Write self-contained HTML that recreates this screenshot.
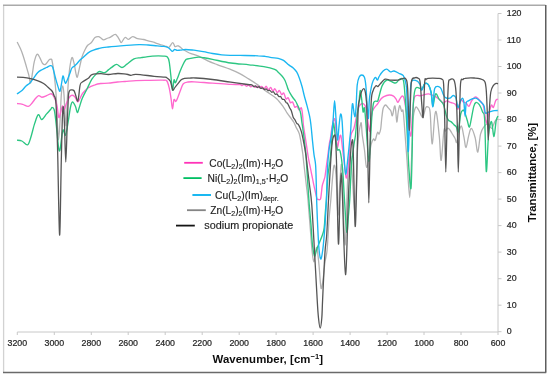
<!DOCTYPE html>
<html><head><meta charset="utf-8"><style>
html,body{margin:0;padding:0;background:#fff;}
body{width:550px;height:377px;overflow:hidden;position:relative;}
svg{position:absolute;left:0;top:0;}
.tl{font-family:"Liberation Sans",sans-serif;font-size:8.8px;fill:#262626;stroke:#262626;stroke-width:0.22px;}
.lg{font-family:"Liberation Sans",sans-serif;font-size:10.4px;fill:#1e1e1e;stroke:#1e1e1e;stroke-width:0.15px;}
.sb{font-size:7.2px;baseline-shift:-2.2px;}
.ax{font-family:"Liberation Sans",sans-serif;font-size:11.4px;font-weight:bold;fill:#0d0d0d;}
.sp{font-size:7.5px;}
</style></head><body>
<svg width="550" height="377" viewBox="0 0 550 377">
<rect x="0" y="0" width="550" height="377" fill="#fff"/>
<line x1="3.6" y1="5.2" x2="3.6" y2="372.2" stroke="#d2d2d2" stroke-width="1.3"/>
<line x1="3" y1="5.2" x2="545.5" y2="5.2" stroke="#aaaaaa" stroke-width="1.4"/>
<line x1="545.75" y1="5" x2="545.75" y2="372.5" stroke="#5e5e5e" stroke-width="1.5"/>
<line x1="3" y1="372.5" x2="546.2" y2="372.5" stroke="#6a6a6a" stroke-width="1.4"/>
<line x1="17.3" y1="332" x2="498" y2="332" stroke="#c8c8c8" stroke-width="1"/>
<line x1="498" y1="13.5" x2="498" y2="332" stroke="#c8c8c8" stroke-width="1"/>
<line x1="17.3" y1="332" x2="17.3" y2="335" stroke="#c8c8c8" stroke-width="1"/>
<text x="17.3" y="346.2" class="tl" text-anchor="middle">3200</text>
<line x1="54.3" y1="332" x2="54.3" y2="335" stroke="#c8c8c8" stroke-width="1"/>
<text x="54.3" y="346.2" class="tl" text-anchor="middle">3000</text>
<line x1="91.3" y1="332" x2="91.3" y2="335" stroke="#c8c8c8" stroke-width="1"/>
<text x="91.3" y="346.2" class="tl" text-anchor="middle">2800</text>
<line x1="128.2" y1="332" x2="128.2" y2="335" stroke="#c8c8c8" stroke-width="1"/>
<text x="128.2" y="346.2" class="tl" text-anchor="middle">2600</text>
<line x1="165.2" y1="332" x2="165.2" y2="335" stroke="#c8c8c8" stroke-width="1"/>
<text x="165.2" y="346.2" class="tl" text-anchor="middle">2400</text>
<line x1="202.2" y1="332" x2="202.2" y2="335" stroke="#c8c8c8" stroke-width="1"/>
<text x="202.2" y="346.2" class="tl" text-anchor="middle">2200</text>
<line x1="239.2" y1="332" x2="239.2" y2="335" stroke="#c8c8c8" stroke-width="1"/>
<text x="239.2" y="346.2" class="tl" text-anchor="middle">2000</text>
<line x1="276.1" y1="332" x2="276.1" y2="335" stroke="#c8c8c8" stroke-width="1"/>
<text x="276.1" y="346.2" class="tl" text-anchor="middle">1800</text>
<line x1="313.1" y1="332" x2="313.1" y2="335" stroke="#c8c8c8" stroke-width="1"/>
<text x="313.1" y="346.2" class="tl" text-anchor="middle">1600</text>
<line x1="350.1" y1="332" x2="350.1" y2="335" stroke="#c8c8c8" stroke-width="1"/>
<text x="350.1" y="346.2" class="tl" text-anchor="middle">1400</text>
<line x1="387.1" y1="332" x2="387.1" y2="335" stroke="#c8c8c8" stroke-width="1"/>
<text x="387.1" y="346.2" class="tl" text-anchor="middle">1200</text>
<line x1="424.0" y1="332" x2="424.0" y2="335" stroke="#c8c8c8" stroke-width="1"/>
<text x="424.0" y="346.2" class="tl" text-anchor="middle">1000</text>
<line x1="461.0" y1="332" x2="461.0" y2="335" stroke="#c8c8c8" stroke-width="1"/>
<text x="461.0" y="346.2" class="tl" text-anchor="middle">800</text>
<line x1="498.0" y1="332" x2="498.0" y2="335" stroke="#c8c8c8" stroke-width="1"/>
<text x="498.0" y="346.2" class="tl" text-anchor="middle">600</text>
<line x1="498" y1="331.7" x2="501.5" y2="331.7" stroke="#c8c8c8" stroke-width="1"/>
<text x="506.8" y="334.2" class="tl">0</text>
<line x1="498" y1="305.2" x2="501.5" y2="305.2" stroke="#c8c8c8" stroke-width="1"/>
<text x="506.8" y="307.7" class="tl">10</text>
<line x1="498" y1="278.7" x2="501.5" y2="278.7" stroke="#c8c8c8" stroke-width="1"/>
<text x="506.8" y="281.2" class="tl">20</text>
<line x1="498" y1="252.1" x2="501.5" y2="252.1" stroke="#c8c8c8" stroke-width="1"/>
<text x="506.8" y="254.6" class="tl">30</text>
<line x1="498" y1="225.6" x2="501.5" y2="225.6" stroke="#c8c8c8" stroke-width="1"/>
<text x="506.8" y="228.1" class="tl">40</text>
<line x1="498" y1="199.1" x2="501.5" y2="199.1" stroke="#c8c8c8" stroke-width="1"/>
<text x="506.8" y="201.6" class="tl">50</text>
<line x1="498" y1="172.6" x2="501.5" y2="172.6" stroke="#c8c8c8" stroke-width="1"/>
<text x="506.8" y="175.1" class="tl">60</text>
<line x1="498" y1="146.1" x2="501.5" y2="146.1" stroke="#c8c8c8" stroke-width="1"/>
<text x="506.8" y="148.6" class="tl">70</text>
<line x1="498" y1="119.6" x2="501.5" y2="119.6" stroke="#c8c8c8" stroke-width="1"/>
<text x="506.8" y="122.1" class="tl">80</text>
<line x1="498" y1="93.0" x2="501.5" y2="93.0" stroke="#c8c8c8" stroke-width="1"/>
<text x="506.8" y="95.5" class="tl">90</text>
<line x1="498" y1="66.5" x2="501.5" y2="66.5" stroke="#c8c8c8" stroke-width="1"/>
<text x="506.8" y="69.0" class="tl">100</text>
<line x1="498" y1="40.0" x2="501.5" y2="40.0" stroke="#c8c8c8" stroke-width="1"/>
<text x="506.8" y="42.5" class="tl">110</text>
<line x1="498" y1="13.5" x2="501.5" y2="13.5" stroke="#c8c8c8" stroke-width="1"/>
<text x="506.8" y="16.0" class="tl">120</text>
<path d="M17.2 42.1 C17.7 43.2 19.4 46.3 20.4 48.6 C21.4 50.9 22.3 53.2 23.2 56.0 C24.1 58.8 25.1 62.2 26.0 65.3 C26.9 68.4 27.9 71.8 28.7 74.7 C29.5 77.7 30.0 83.3 30.6 83.0 C31.2 82.7 31.9 76.4 32.5 72.8 C33.1 69.2 33.5 64.7 34.3 61.6 C35.1 58.5 36.2 54.8 37.1 54.2 C38.0 53.6 39.0 56.4 39.9 57.9 C40.8 59.4 41.8 62.4 42.7 63.5 C43.6 64.6 44.4 65.0 45.5 64.4 C46.6 63.8 48.3 60.6 49.2 59.8 C50.1 58.9 50.3 59.2 50.8 59.3 C51.3 59.4 51.5 58.2 52.0 60.5 C52.5 62.8 53.3 67.8 54.0 73.3 C54.7 78.8 55.4 84.6 56.0 93.2 C56.6 101.8 57.1 117.2 57.5 125.0 C57.9 132.8 58.1 140.0 58.5 140.0 C58.9 140.0 59.3 132.5 59.8 125.0 C60.3 117.5 60.8 101.5 61.3 95.0 C61.8 88.5 62.3 86.0 62.8 86.0 C63.2 86.0 63.6 89.7 64.0 95.0 C64.4 100.3 64.9 113.0 65.3 118.0 C65.7 123.0 66.0 128.0 66.3 125.0 C66.6 122.0 66.9 107.5 67.3 100.0 C67.7 92.5 68.0 85.7 68.5 80.0 C69.0 74.3 69.4 69.8 70.0 66.0 C70.6 62.2 71.3 58.0 72.0 57.5 C72.7 57.0 73.2 60.1 73.9 62.7 C74.6 65.3 75.4 70.9 75.9 73.3 C76.5 75.7 76.8 77.5 77.2 77.3 C77.7 77.1 78.1 74.0 78.6 72.0 C79.1 70.0 79.4 67.8 80.0 65.3 C80.6 62.8 81.2 59.6 82.0 57.0 C82.8 54.4 84.0 51.8 85.0 49.8 C86.0 47.8 86.6 46.5 87.7 45.3 C88.8 44.1 90.2 43.8 91.4 42.5 C92.6 41.2 93.8 38.5 95.0 37.5 C96.2 36.5 97.6 36.5 98.6 36.6 C99.6 36.7 100.1 37.5 100.9 38.0 C101.7 38.5 102.6 39.7 103.6 39.8 C104.6 39.9 105.6 39.0 106.8 38.5 C108.0 38.0 109.1 37.8 110.5 37.1 C111.9 36.4 113.9 34.5 115.0 34.4 C116.1 34.2 116.5 35.3 117.3 36.2 C118.0 37.1 118.8 38.8 119.5 39.8 C120.2 40.8 120.5 42.9 121.4 42.5 C122.3 42.1 123.8 38.0 125.0 37.5 C126.2 37.0 127.3 39.5 128.6 39.4 C129.9 39.2 131.2 36.7 132.7 36.6 C134.2 36.5 135.8 38.2 137.6 38.7 C139.4 39.2 141.8 39.1 143.6 39.5 C145.4 39.9 146.7 40.5 148.2 40.9 C149.7 41.3 151.2 41.3 152.7 41.8 C154.2 42.2 155.8 43.1 157.3 43.6 C158.8 44.1 160.3 44.5 161.8 45.0 C163.3 45.5 165.2 46.0 166.4 46.4 C167.6 46.8 168.1 47.8 169.1 47.2 C170.1 46.6 171.7 42.8 172.7 42.7 C173.7 42.6 174.3 45.9 174.9 46.5 C175.5 47.1 175.9 46.3 176.5 46.2 C177.1 46.1 177.6 45.6 178.3 45.8 C179.0 46.0 179.8 46.7 180.5 47.3 C181.2 47.9 181.3 48.3 182.8 49.3 C184.3 50.2 186.7 51.9 189.3 53.0 C191.9 54.1 195.5 54.9 198.6 56.2 C201.7 57.5 204.7 59.5 207.8 60.9 C210.9 62.3 213.4 63.2 217.1 64.6 C220.8 66.0 226.3 67.8 230.0 69.2 C233.7 70.7 236.2 71.7 239.3 73.3 C242.4 74.9 245.5 77.0 248.6 78.9 C251.7 80.8 254.7 82.7 257.8 84.9 C260.9 87.1 264.0 89.7 267.1 91.9 C270.2 94.2 273.7 95.9 276.4 98.4 C279.1 100.9 281.5 104.3 283.3 106.8 C285.1 109.3 285.9 111.2 287.2 113.2 C288.5 115.2 290.1 117.0 291.2 118.5 C292.3 120.0 293.2 121.1 294.0 122.5 C294.8 123.9 295.1 125.3 296.0 127.1 C296.9 128.9 298.3 130.7 299.2 133.5 C300.1 136.3 300.7 140.6 301.3 144.1 C301.9 147.6 302.4 151.2 302.9 154.7 C303.3 158.2 303.4 159.9 304.0 165.0 C304.6 170.1 305.6 179.2 306.3 185.0 C307.0 190.8 307.4 193.3 308.0 200.0 C308.6 206.7 309.3 216.7 310.0 225.0 C310.7 233.3 311.4 243.9 312.0 250.0 C312.6 256.1 313.2 261.4 313.8 261.7 C314.4 262.0 315.0 254.3 315.5 252.0 C316.0 249.7 316.4 245.8 317.0 248.0 C317.6 250.2 318.3 258.3 319.0 265.0 C319.7 271.7 320.3 285.5 321.0 288.0 C321.7 290.5 322.3 284.3 323.0 280.0 C323.7 275.7 324.3 267.0 325.0 262.0 C325.7 257.0 326.4 257.0 327.1 250.0 C327.8 243.0 328.4 228.3 329.0 220.0 C329.6 211.7 330.0 208.9 330.8 200.0 C331.6 191.1 332.8 171.0 333.7 166.8 C334.6 162.6 335.3 167.0 336.0 175.0 C336.7 183.0 337.3 214.2 338.0 215.0 C338.7 215.8 339.3 187.8 340.0 180.0 C340.7 172.2 341.2 157.2 342.0 168.0 C342.8 178.8 344.0 244.3 345.0 245.0 C346.0 245.7 347.0 186.5 348.0 172.0 C349.0 157.5 349.8 151.3 351.0 158.0 C352.2 164.7 353.9 213.3 355.0 212.0 C356.1 210.7 356.5 164.8 357.5 150.0 C358.5 135.2 360.0 125.6 360.8 123.1 C361.6 120.6 361.7 130.7 362.3 135.2 C362.9 139.7 363.8 144.6 364.5 150.0 C365.2 155.4 365.8 166.6 366.6 167.4 C367.4 168.2 368.8 158.8 369.5 155.0 C370.2 151.2 370.4 147.2 371.1 144.5 C371.8 141.8 372.8 139.6 373.5 138.9 C374.2 138.2 374.4 141.6 375.1 140.5 C375.8 139.4 376.8 133.6 377.5 132.5 C378.2 131.4 378.6 134.6 379.1 134.0 C379.6 133.4 380.2 131.7 380.7 129.0 C381.1 126.3 381.4 121.3 381.8 118.0 C382.2 114.7 382.6 111.0 383.0 109.0 C383.4 107.0 383.8 106.7 384.3 106.0 C384.8 105.3 385.4 104.8 386.0 105.1 C386.6 105.4 387.3 106.7 388.1 107.7 C388.9 108.7 390.1 109.6 390.8 110.9 C391.5 112.2 391.8 116.5 392.4 115.7 C393.0 114.9 394.0 107.1 394.5 106.1 C395.0 105.1 395.2 107.1 395.6 109.8 C396.0 112.5 396.4 121.6 396.8 122.0 C397.2 122.4 397.7 114.7 398.2 112.0 C398.7 109.3 399.2 106.1 399.6 105.6 C400.1 105.1 400.5 107.8 400.9 108.8 C401.2 109.8 401.3 111.1 401.7 111.4 C402.1 111.7 402.6 108.7 403.0 110.4 C403.4 112.1 403.8 117.4 404.1 121.5 C404.5 125.6 404.6 128.6 405.1 135.0 C405.6 141.4 406.2 149.6 407.0 160.0 C407.8 170.4 408.9 197.5 409.7 197.5 C410.4 197.5 410.9 172.9 411.5 160.0 C412.1 147.1 412.3 128.7 413.0 120.0 C413.7 111.3 414.7 109.4 415.5 107.6 C416.3 105.8 417.2 108.1 418.0 109.0 C418.8 109.9 419.3 111.7 420.1 113.1 C420.9 114.5 422.0 118.1 422.9 117.3 C423.8 116.5 424.8 109.7 425.6 108.0 C426.5 106.3 427.2 106.3 428.0 107.0 C428.8 107.7 429.4 105.8 430.1 112.0 C430.8 118.2 431.3 143.3 432.1 143.9 C432.9 144.5 434.1 120.5 434.8 115.5 C435.6 110.5 435.8 110.0 436.6 113.7 C437.4 117.4 438.6 129.7 439.4 137.5 C440.2 145.3 440.4 161.6 441.2 160.4 C441.9 159.2 443.2 135.4 443.9 130.5 C444.6 125.6 444.8 131.4 445.5 131.0 C446.2 130.6 447.1 128.2 447.9 128.1 C448.7 128.0 449.5 129.4 450.3 130.5 C451.1 131.6 451.9 133.2 452.7 134.5 C453.5 135.8 454.4 137.2 455.1 138.5 C455.8 139.8 456.1 143.2 456.7 142.5 C457.3 141.8 457.7 136.8 458.5 134.0 C459.3 131.2 460.5 125.5 461.4 126.0 C462.3 126.5 463.1 133.3 463.9 136.9 C464.7 140.5 465.2 147.7 466.0 147.5 C466.8 147.3 467.8 138.8 468.7 135.6 C469.6 132.4 470.3 128.0 471.4 128.3 C472.5 128.6 474.0 133.5 475.1 137.5 C476.2 141.5 476.9 152.7 477.8 152.1 C478.7 151.5 479.5 138.1 480.6 133.8 C481.7 129.5 483.0 128.2 484.2 126.5 C485.4 124.8 486.7 123.4 487.9 123.7 C489.1 124.0 490.4 128.8 491.6 128.3 C492.8 127.9 494.1 122.5 495.2 121.0 C496.3 119.5 497.5 119.3 498.0 119.0" stroke="#b2b2b2" stroke-width="1.3" fill="none" stroke-linejoin="round"/>
<path d="M17.0 103.5 C17.9 103.6 20.8 103.8 22.7 104.3 C24.6 104.8 26.7 106.7 28.3 106.4 C29.9 106.1 31.1 104.0 32.3 102.7 C33.5 101.4 34.4 99.7 35.5 98.5 C36.6 97.3 37.7 95.8 38.7 95.6 C39.8 95.4 40.5 97.2 41.8 97.2 C43.1 97.2 45.1 96.2 46.6 95.6 C48.1 95.0 49.6 93.9 50.6 93.8 C51.6 93.7 51.9 93.8 52.7 94.8 C53.5 95.8 54.5 97.8 55.3 99.8 C56.0 101.8 56.6 104.0 57.2 107.0 C57.8 110.0 58.2 116.5 58.8 117.5 C59.3 118.5 59.9 114.8 60.5 112.9 C61.1 111.0 61.9 106.6 62.5 106.0 C63.1 105.4 63.7 109.8 64.3 109.5 C64.9 109.2 65.4 106.0 66.0 104.5 C66.6 103.0 67.0 101.8 67.7 100.5 C68.4 99.2 69.3 97.4 70.0 96.5 C70.7 95.6 71.2 95.2 72.0 95.2 C72.8 95.2 73.8 95.7 74.6 96.5 C75.4 97.3 76.0 98.9 76.6 99.8 C77.1 100.7 77.3 102.0 77.9 101.8 C78.5 101.6 79.2 99.9 80.0 98.5 C80.8 97.1 81.2 95.2 82.5 93.5 C83.8 91.8 85.9 89.5 88.0 88.0 C90.1 86.5 92.8 85.5 95.0 84.8 C97.2 84.0 98.8 83.8 101.0 83.5 C103.2 83.2 105.5 83.5 108.3 83.2 C111.0 83.0 114.7 82.3 117.5 82.0 C120.3 81.7 121.9 81.7 125.0 81.5 C128.1 81.3 131.8 80.8 136.0 80.6 C140.2 80.4 145.4 80.4 150.0 80.3 C154.6 80.2 160.5 80.1 163.3 80.2 C166.1 80.3 165.9 79.6 166.9 81.0 C167.9 82.4 168.6 85.3 169.3 88.4 C170.0 91.5 170.7 96.2 171.2 99.6 C171.7 103.0 172.0 108.9 172.5 108.9 C173.0 108.9 173.4 100.8 174.0 99.6 C174.6 98.4 175.2 101.8 175.8 101.5 C176.4 101.2 176.9 99.6 177.7 97.7 C178.5 95.8 179.6 92.6 180.5 90.3 C181.4 88.0 182.1 85.2 183.3 83.8 C184.5 82.4 186.1 82.3 187.9 82.0 C189.7 81.7 190.1 81.6 194.2 81.8 C198.3 82.0 206.4 82.7 212.5 83.1 C218.6 83.5 226.2 84.2 230.8 84.4 C235.4 84.7 238.1 84.4 240.0 84.6 C241.9 84.8 241.3 85.6 242.0 85.6 C242.7 85.5 243.5 84.4 244.2 84.5 C244.9 84.6 245.7 86.1 246.4 86.2 C247.1 86.3 247.9 85.0 248.6 85.1 C249.3 85.2 250.1 86.7 250.8 86.8 C251.5 86.9 252.3 85.6 253.0 85.7 C253.7 85.8 254.5 87.2 255.2 87.3 C255.9 87.4 256.7 86.0 257.4 86.1 C258.1 86.2 258.9 87.6 259.6 87.7 C260.3 87.8 261.1 86.3 261.8 86.5 C262.5 86.7 263.3 88.9 264.0 88.9 C264.7 88.9 265.5 86.1 266.2 86.3 C266.9 86.5 267.7 89.7 268.4 89.8 C269.1 90.0 269.9 87.2 270.6 87.4 C271.3 87.6 272.1 90.7 272.8 90.9 C273.5 91.2 274.3 88.5 275.0 88.8 C275.7 89.0 276.5 92.3 277.2 92.6 C277.9 92.9 278.7 90.1 279.4 90.5 C280.1 90.8 280.9 94.2 281.6 94.6 C282.3 95.1 283.1 92.4 283.8 93.1 C284.5 93.9 285.3 98.2 286.0 99.0 C286.7 99.8 287.5 97.1 288.2 97.7 C288.9 98.3 289.7 101.9 290.4 102.7 C291.1 103.4 291.9 101.3 292.6 102.0 C293.3 102.8 294.1 106.5 294.8 107.2 C295.5 107.9 296.3 105.7 297.0 106.2 C297.7 106.7 298.5 109.8 299.2 110.1 C299.9 110.3 300.8 106.9 301.4 107.9 C302.0 109.0 302.4 113.4 302.7 116.2 C303.0 119.0 303.0 121.8 303.4 125.0 C303.8 128.2 304.5 132.1 305.0 135.6 C305.5 139.1 306.1 142.7 306.6 146.2 C307.1 149.7 307.7 153.7 308.2 156.8 C308.7 159.9 309.2 162.0 309.8 165.0 C310.4 168.0 311.0 171.2 311.8 175.0 C312.6 178.8 313.6 184.1 314.5 188.0 C315.4 191.9 316.2 196.3 316.9 198.2 C317.6 200.1 317.9 199.4 318.5 199.5 C319.1 199.6 320.0 200.2 320.5 199.0 C321.0 197.8 321.2 194.2 321.5 192.0 C321.8 189.8 321.9 187.5 322.3 185.5 C322.7 183.5 323.6 181.5 324.0 180.0 C324.4 178.5 324.6 178.8 325.0 176.5 C325.4 174.2 325.9 169.4 326.4 166.0 C326.9 162.6 327.3 159.5 327.8 155.8 C328.3 152.1 328.9 146.9 329.3 144.0 C329.7 141.1 329.9 141.3 330.4 138.5 C330.8 135.7 331.4 130.4 332.0 127.2 C332.6 124.0 333.6 120.0 334.2 119.1 C334.8 118.2 334.9 118.5 335.3 122.0 C335.7 125.5 336.1 135.7 336.5 140.0 C336.9 144.3 337.1 147.9 337.5 147.9 C337.9 147.9 338.4 142.1 339.0 140.0 C339.6 137.9 340.2 133.8 340.8 135.5 C341.4 137.2 342.1 145.1 342.7 150.0 C343.3 154.9 343.9 160.3 344.5 165.0 C345.1 169.7 345.6 177.5 346.2 178.0 C346.8 178.5 347.6 172.7 348.2 168.0 C348.8 163.3 349.2 155.5 349.7 150.0 C350.2 144.5 350.3 138.6 351.0 135.0 C351.7 131.4 352.9 131.5 353.8 128.7 C354.7 125.9 355.4 121.5 356.2 118.0 C357.0 114.5 357.8 110.2 358.5 108.0 C359.2 105.8 359.7 105.2 360.5 104.5 C361.3 103.8 362.6 103.2 363.5 103.8 C364.4 104.4 365.2 105.0 366.0 108.0 C366.8 111.0 367.4 118.1 368.0 122.0 C368.6 125.9 369.3 131.9 369.8 131.2 C370.3 130.5 370.8 121.2 371.2 118.0 C371.6 114.8 371.7 113.7 372.2 112.0 C372.7 110.3 373.5 109.0 374.4 107.7 C375.3 106.4 376.4 105.4 377.5 104.0 C378.6 102.6 379.6 100.4 380.7 99.2 C381.8 98.0 382.5 97.3 383.9 96.6 C385.3 95.9 387.6 95.1 389.2 95.0 C390.8 94.9 392.4 95.4 393.5 96.1 C394.6 96.8 395.4 98.2 396.1 99.2 C396.8 100.2 397.1 102.4 397.7 102.4 C398.3 102.4 399.1 100.2 399.8 99.2 C400.5 98.2 401.3 96.4 401.9 96.1 C402.5 95.8 403.1 96.2 403.5 97.1 C403.9 98.0 404.2 99.1 404.6 101.4 C405.1 103.7 405.8 108.6 406.2 110.9 C406.6 113.2 406.5 112.2 407.0 115.0 C407.5 117.8 408.3 124.6 409.0 128.0 C409.7 131.4 410.4 137.8 411.0 135.6 C411.6 133.4 411.9 121.4 412.5 115.0 C413.1 108.6 413.2 100.2 414.6 97.0 C416.0 93.8 418.7 96.2 421.0 95.7 C423.3 95.2 426.2 93.9 428.3 93.9 C430.4 93.9 432.0 94.8 433.8 95.7 C435.6 96.6 437.7 98.2 439.3 99.4 C440.9 100.6 442.1 102.8 443.3 103.1 C444.5 103.3 445.2 101.0 446.5 100.9 C447.8 100.8 449.4 102.0 450.9 102.5 C452.4 103.0 454.1 103.1 455.3 104.2 C456.5 105.3 457.1 109.8 458.0 109.1 C458.9 108.4 459.8 101.0 460.7 99.8 C461.6 98.6 462.5 101.5 463.4 102.0 C464.3 102.5 465.3 102.4 466.2 103.1 C467.1 103.8 468.0 106.8 468.9 106.4 C469.8 106.0 470.6 102.5 471.6 100.9 C472.6 99.4 473.8 97.5 474.9 97.1 C476.0 96.7 477.1 97.8 478.2 98.7 C479.3 99.6 480.5 101.2 481.4 102.5 C482.3 103.8 482.9 103.4 483.6 106.4 C484.3 109.4 485.2 117.8 485.8 120.5 C486.4 123.2 486.4 123.6 486.9 122.7 C487.3 121.8 487.8 118.0 488.5 115.1 C489.2 112.2 490.5 106.6 491.3 105.3 C492.1 104.0 492.7 108.1 493.4 107.4 C494.1 106.7 494.9 102.3 495.6 100.9 C496.3 99.5 497.4 99.3 497.8 99.0" stroke="#ff68ce" stroke-width="1.35" fill="none" stroke-linejoin="round"/>
<path d="M17.0 140.2 C17.8 140.3 20.1 140.2 21.9 141.0 C23.6 141.8 26.0 145.4 27.5 144.9 C29.0 144.4 29.5 141.4 30.7 137.8 C31.9 134.2 33.4 127.2 34.7 123.4 C36.0 119.6 37.1 115.4 38.3 114.7 C39.5 114.0 40.4 119.6 41.8 119.5 C43.2 119.4 45.1 115.6 46.6 113.9 C48.1 112.2 49.7 110.6 50.6 109.5 C51.5 108.4 51.6 107.2 52.2 107.5 C52.9 107.8 53.7 107.1 54.5 111.0 C55.3 114.9 56.2 124.7 56.9 130.9 C57.6 137.1 58.1 144.9 58.6 148.1 C59.1 151.2 59.4 152.1 60.0 149.8 C60.6 147.5 61.5 137.6 62.1 134.3 C62.7 131.0 62.8 129.8 63.4 130.0 C64.0 130.2 64.7 136.5 65.5 135.2 C66.3 133.9 67.3 126.9 68.1 122.2 C68.9 117.5 69.8 110.4 70.5 107.0 C71.2 103.6 71.7 102.1 72.5 102.0 C73.3 101.9 74.7 104.8 75.5 106.5 C76.3 108.2 76.7 112.3 77.3 112.5 C77.9 112.7 78.5 109.9 79.3 107.5 C80.1 105.1 81.0 101.3 82.3 98.2 C83.6 95.1 85.5 91.9 87.1 88.7 C88.7 85.5 90.3 81.6 91.9 79.1 C93.5 76.6 95.4 74.8 96.7 73.5 C98.0 72.2 98.2 71.7 99.5 71.5 C100.8 71.3 103.2 72.9 104.7 72.6 C106.2 72.3 107.1 70.8 108.3 69.9 C109.5 69.0 110.6 68.0 112.0 67.1 C113.4 66.2 114.9 64.3 116.6 64.4 C118.3 64.5 120.3 67.5 122.0 67.5 C123.7 67.5 124.6 65.8 126.6 64.4 C128.6 63.0 131.6 60.0 134.0 58.9 C136.4 57.8 138.2 58.1 141.3 57.6 C144.4 57.1 148.6 56.4 152.3 56.1 C156.0 55.9 160.8 55.9 163.3 56.1 C165.8 56.3 166.4 56.1 167.4 57.1 C168.4 58.1 168.7 58.6 169.3 62.3 C169.9 66.0 170.7 74.4 171.2 79.1 C171.7 83.8 172.0 90.1 172.5 90.3 C173.0 90.5 173.5 81.2 174.0 80.0 C174.5 78.8 174.8 83.0 175.3 82.8 C175.8 82.6 176.3 81.0 177.1 79.1 C177.9 77.2 179.1 73.8 180.0 71.5 C180.9 69.2 181.9 66.9 182.8 65.0 C183.7 63.1 184.8 61.0 185.6 60.0 C186.4 59.0 186.3 59.3 187.4 59.0 C188.5 58.7 190.2 58.4 192.1 58.1 C194.0 57.8 196.8 57.3 198.6 57.2 C200.4 57.1 200.9 57.2 203.2 57.6 C205.5 58.0 207.9 58.4 212.5 59.3 C217.1 60.2 224.7 62.1 230.8 63.0 C236.9 63.9 243.6 64.2 249.1 64.8 C254.6 65.4 259.5 65.8 263.8 66.6 C268.1 67.4 272.3 68.5 274.7 69.4 C277.1 70.3 276.9 71.1 278.2 72.2 C279.4 73.3 281.1 74.9 282.2 76.2 C283.3 77.5 284.1 78.7 284.9 80.2 C285.7 81.8 286.3 84.0 286.9 85.5 C287.4 87.0 287.6 88.1 288.2 89.4 C288.8 90.7 289.4 92.1 290.2 93.4 C291.0 94.8 291.9 96.2 292.8 97.5 C293.7 98.8 294.7 99.8 295.5 101.0 C296.3 102.2 296.9 103.8 297.5 105.0 C298.1 106.2 298.5 107.0 299.0 108.3 C299.5 109.6 300.2 110.9 300.6 113.0 C301.1 115.1 301.4 118.7 301.7 121.0 C302.0 123.3 302.2 124.2 302.6 127.0 C303.0 129.8 303.6 134.5 304.0 137.7 C304.4 140.9 304.6 143.2 305.0 146.2 C305.4 149.2 305.8 152.7 306.1 155.8 C306.4 158.9 306.1 157.6 306.6 165.0 C307.1 172.4 308.2 190.0 308.9 200.0 C309.6 210.0 310.4 217.5 311.0 225.0 C311.6 232.5 311.9 239.8 312.5 245.0 C313.1 250.2 313.8 255.2 314.5 256.0 C315.2 256.8 315.8 252.1 316.5 250.0 C317.2 247.9 318.0 246.1 319.0 243.6 C320.0 241.1 321.5 237.7 322.4 235.0 C323.3 232.3 323.7 231.9 324.2 227.7 C324.7 223.5 325.1 214.6 325.5 210.0 C325.9 205.4 326.0 205.8 326.4 200.0 C326.8 194.2 327.4 181.7 328.0 175.0 C328.6 168.3 329.3 167.5 330.1 160.0 C330.9 152.5 332.0 136.3 332.6 130.2 C333.2 124.0 333.2 122.4 333.6 123.1 C334.0 123.8 334.6 130.5 335.1 134.2 C335.6 137.8 336.1 142.4 336.5 145.0 C336.9 147.6 337.0 149.0 337.6 150.0 C338.2 151.0 339.2 147.7 340.1 151.1 C341.0 154.5 342.0 162.0 342.7 170.2 C343.4 178.3 343.8 189.7 344.5 200.0 C345.2 210.3 346.1 229.6 346.8 232.1 C347.5 234.6 348.0 220.3 348.5 215.0 C349.0 209.7 349.2 208.3 349.7 200.0 C350.2 191.7 350.8 174.5 351.5 165.0 C352.2 155.5 353.5 148.0 354.2 143.0 C354.9 138.0 355.0 139.7 355.5 135.0 C356.0 130.3 356.7 120.1 357.2 115.1 C357.7 110.1 358.2 109.1 358.7 105.0 C359.2 100.9 359.7 91.4 360.2 90.6 C360.7 89.8 361.3 96.6 361.8 100.2 C362.3 103.8 362.7 110.7 363.1 112.0 C363.6 113.3 364.0 105.8 364.5 108.0 C365.0 110.2 365.3 116.2 366.0 125.0 C366.7 133.8 368.1 158.6 368.8 161.1 C369.6 163.6 370.0 147.7 370.5 140.0 C371.0 132.3 371.4 121.3 372.0 115.0 C372.6 108.7 372.9 104.5 373.8 102.2 C374.7 99.9 376.6 101.8 377.4 101.2 C378.2 100.6 377.7 101.1 378.5 98.5 C379.3 95.9 380.8 88.7 382.2 85.6 C383.6 82.5 385.1 80.7 386.8 80.1 C388.5 79.5 390.8 81.5 392.3 82.0 C393.8 82.5 394.7 83.4 395.9 82.9 C397.1 82.4 398.4 79.7 399.6 79.2 C400.8 78.7 402.4 77.2 403.3 80.1 C404.2 83.0 404.5 88.3 405.1 96.6 C405.7 104.9 406.4 117.8 407.0 130.0 C407.6 142.2 408.3 160.3 409.0 170.0 C409.7 179.7 410.5 191.6 411.0 188.3 C411.5 185.0 411.9 163.1 412.2 150.0 C412.5 136.9 412.6 119.7 413.0 110.0 C413.4 100.3 413.9 95.8 414.5 92.0 C415.1 88.2 415.5 88.1 416.4 87.5 C417.3 86.9 419.2 88.1 420.1 88.4 C421.0 88.7 421.1 90.1 421.9 89.3 C422.7 88.5 423.6 84.6 424.7 83.8 C425.8 83.0 427.2 83.3 428.3 84.7 C429.4 86.1 430.3 88.5 431.1 92.0 C431.9 95.5 432.1 105.5 432.9 105.8 C433.6 106.1 434.5 95.0 435.6 93.9 C436.7 92.8 438.0 97.7 439.3 99.4 C440.6 101.1 442.1 101.4 443.3 104.2 C444.5 107.0 445.6 113.5 446.5 116.2 C447.4 118.9 448.0 119.6 448.7 120.5 C449.4 121.4 450.0 120.9 450.9 121.6 C451.8 122.3 453.3 124.0 454.2 124.9 C455.1 125.8 455.7 125.9 456.4 127.1 C457.1 128.3 457.5 134.2 458.2 132.0 C458.9 129.8 459.9 117.6 460.7 114.0 C461.5 110.4 462.3 110.6 462.9 110.2 C463.5 109.8 463.8 110.1 464.5 111.8 C465.2 113.5 466.5 118.0 467.3 120.5 C468.1 123.0 468.7 127.6 469.4 127.1 C470.1 126.6 470.9 120.8 471.6 117.3 C472.3 113.8 473.1 108.9 473.8 106.4 C474.5 103.9 475.1 102.8 476.0 102.5 C476.9 102.2 478.2 103.2 479.3 104.7 C480.4 106.2 481.6 109.2 482.5 111.8 C483.4 114.3 484.1 110.0 484.7 120.0 C485.3 129.9 485.7 169.0 486.3 171.5 C486.9 174.0 487.8 142.9 488.5 135.0 C489.2 127.1 489.8 126.1 490.3 124.0 C490.9 121.9 491.2 120.4 491.8 122.5 C492.4 124.6 493.3 136.8 494.0 136.5 C494.7 136.2 495.5 123.9 496.2 120.5 C496.9 117.1 497.7 116.8 498.0 116.0" stroke="#2cc682" stroke-width="1.35" fill="none" stroke-linejoin="round"/>
<path d="M17.0 94.0 C17.8 93.4 20.5 91.8 22.0 90.5 C23.5 89.2 24.7 87.2 26.0 86.0 C27.3 84.8 28.4 84.4 29.6 83.2 C30.8 82.0 31.6 80.8 33.0 79.0 C34.4 77.2 36.2 74.1 37.8 72.5 C39.4 70.9 41.0 70.3 42.5 69.5 C44.0 68.7 45.1 68.2 46.5 67.5 C47.9 66.8 49.6 65.6 50.6 65.6 C51.6 65.6 51.9 65.3 52.7 67.3 C53.5 69.2 54.4 74.1 55.3 77.3 C56.2 80.5 57.2 84.3 58.0 86.6 C58.8 88.9 59.4 91.9 60.0 91.2 C60.6 90.5 61.2 85.1 61.7 82.6 C62.2 80.0 62.5 76.1 63.0 75.9 C63.5 75.7 64.1 80.0 64.6 81.2 C65.0 82.4 65.2 83.6 65.7 83.2 C66.2 82.8 67.2 80.2 67.9 78.6 C68.6 76.9 69.2 75.1 69.9 73.3 C70.6 71.5 71.1 69.2 71.9 68.0 C72.7 66.8 73.8 66.7 74.6 66.0 C75.4 65.3 75.7 65.0 76.6 64.0 C77.5 63.0 78.9 61.1 80.0 60.0 C81.1 58.9 81.4 58.8 83.1 57.4 C84.8 56.0 87.3 53.1 90.0 51.6 C92.7 50.1 96.2 49.2 99.2 48.4 C102.2 47.6 103.7 47.5 108.3 47.0 C112.9 46.5 121.5 45.8 126.6 45.4 C131.7 45.0 135.5 44.7 139.1 44.6 C142.7 44.5 145.2 44.8 148.2 45.0 C151.2 45.2 154.8 45.7 157.3 45.9 C159.8 46.1 161.8 46.2 163.3 46.4 C164.8 46.5 165.4 46.5 166.4 46.8 C167.4 47.1 168.1 47.4 169.1 48.2 C170.1 49.0 171.4 51.2 172.3 51.4 C173.2 51.6 173.7 49.7 174.5 49.5 C175.3 49.3 176.3 50.3 177.3 50.4 C178.3 50.5 179.1 50.2 180.5 50.1 C181.9 50.0 183.4 49.5 185.6 49.5 C187.8 49.5 191.0 49.9 193.9 50.2 C196.8 50.6 200.1 51.1 203.2 51.6 C206.3 52.1 209.4 53.0 212.5 53.5 C215.6 54.0 218.8 54.5 221.7 54.8 C224.6 55.1 226.9 55.2 230.0 55.3 C233.1 55.4 235.3 55.3 240.0 55.4 C244.7 55.5 254.1 55.6 258.3 55.8 C262.5 55.9 262.8 56.0 265.0 56.3 C267.2 56.6 269.4 57.3 271.6 57.6 C273.8 57.9 276.2 57.8 278.2 58.3 C280.2 58.8 281.7 59.2 283.5 60.3 C285.3 61.4 287.1 63.6 288.8 64.9 C290.5 66.2 292.2 67.0 293.5 68.2 C294.8 69.4 295.8 70.5 296.8 72.2 C297.8 73.9 298.5 75.8 299.4 78.2 C300.3 80.6 301.3 83.9 302.1 86.8 C302.9 89.7 303.4 92.4 304.2 95.5 C305.0 98.6 306.1 102.1 307.0 105.6 C307.9 109.0 308.9 112.9 309.6 116.2 C310.3 119.5 310.5 121.4 311.0 125.5 C311.5 129.6 312.0 136.0 312.5 140.9 C313.0 145.8 313.5 150.7 314.0 154.7 C314.5 158.7 315.2 159.9 315.6 165.0 C316.0 170.1 316.1 178.3 316.3 185.0 C316.5 191.7 316.5 196.7 316.8 205.0 C317.1 213.3 317.7 227.5 318.1 235.0 C318.5 242.5 318.7 246.0 319.1 250.0 C319.5 254.0 320.1 258.2 320.6 259.0 C321.1 259.8 321.6 257.3 322.0 255.0 C322.4 252.7 322.8 250.3 323.3 245.3 C323.8 240.3 324.5 232.6 325.0 225.0 C325.5 217.4 326.0 209.2 326.4 200.0 C326.8 190.8 327.0 178.3 327.4 170.0 C327.8 161.7 328.3 155.8 329.0 150.0 C329.7 144.2 330.8 140.0 331.5 135.0 C332.2 130.0 332.6 125.8 333.1 120.1 C333.6 114.4 334.1 100.7 334.6 100.7 C335.1 100.7 335.6 113.5 336.1 120.1 C336.6 126.6 337.1 139.2 337.6 140.0 C338.1 140.8 338.6 129.4 339.1 125.1 C339.6 120.8 340.1 114.8 340.6 114.1 C341.1 113.4 341.6 115.1 342.1 121.1 C342.6 127.1 343.1 141.2 343.7 150.0 C344.3 158.8 344.9 173.3 345.7 174.2 C346.4 175.0 347.5 160.8 348.2 155.1 C348.9 149.4 349.3 144.2 349.7 140.0 C350.1 135.8 350.2 136.2 350.7 130.2 C351.1 124.2 351.8 106.7 352.4 104.0 C353.0 101.3 353.7 112.1 354.2 114.1 C354.7 116.1 354.9 117.6 355.2 116.1 C355.5 114.6 355.9 110.2 356.2 105.0 C356.5 99.8 356.7 89.8 357.2 85.1 C357.7 80.4 358.4 78.7 359.2 77.0 C360.0 75.3 360.9 75.0 361.8 75.0 C362.7 75.0 363.6 75.3 364.3 77.0 C365.0 78.7 365.4 81.2 365.8 85.1 C366.2 89.0 366.5 95.7 366.8 100.2 C367.1 104.7 367.4 109.0 367.7 112.0 C368.0 115.0 368.2 120.0 368.5 118.0 C368.8 116.0 368.9 104.9 369.3 100.2 C369.7 95.5 370.3 92.8 370.8 90.0 C371.3 87.2 371.7 85.0 372.3 83.1 C372.9 81.2 373.7 79.5 374.3 78.6 C374.9 77.7 375.4 77.3 375.9 77.6 C376.4 77.8 376.8 80.4 377.4 80.1 C378.0 79.8 378.4 77.5 379.4 76.0 C380.3 74.5 381.9 72.1 383.1 71.0 C384.3 69.9 385.6 69.0 386.8 69.2 C388.0 69.4 389.2 71.6 390.4 71.9 C391.6 72.2 392.6 70.7 394.1 71.0 C395.6 71.3 398.1 72.9 399.6 73.7 C401.1 74.5 402.3 74.2 403.3 75.6 C404.3 77.0 404.9 78.8 405.5 82.0 C406.1 85.2 406.4 83.5 406.9 95.0 C407.3 106.5 407.8 147.0 408.2 151.2 C408.6 155.4 409.1 130.2 409.5 120.0 C409.9 109.8 410.1 96.5 410.5 90.0 C410.9 83.5 410.7 82.6 411.8 81.1 C412.9 79.6 415.9 80.5 417.3 81.1 C418.7 81.7 419.3 83.2 420.1 84.7 C420.9 86.2 421.1 90.4 421.9 90.2 C422.7 90.0 423.6 84.7 424.7 83.8 C425.8 82.9 427.2 83.2 428.3 84.7 C429.4 86.2 430.3 89.3 431.1 93.0 C431.9 96.7 432.3 107.5 432.9 106.7 C433.5 105.9 433.5 91.6 434.7 88.4 C435.9 85.2 438.8 86.5 440.2 87.5 C441.6 88.5 442.4 92.7 443.3 94.4 C444.2 96.1 444.4 97.0 445.5 97.6 C446.6 98.2 448.5 98.5 449.8 98.2 C451.1 97.9 452.1 95.6 453.1 95.5 C454.1 95.4 455.0 95.6 455.8 97.6 C456.6 99.6 457.3 106.7 458.0 107.4 C458.7 108.1 459.5 103.5 460.2 102.0 C460.9 100.5 461.8 98.0 462.4 98.2 C463.0 98.4 463.6 100.1 464.0 103.1 C464.4 106.1 464.7 116.2 465.1 116.2 C465.5 116.2 465.6 105.6 466.2 103.1 C466.8 100.5 467.3 101.6 468.4 100.9 C469.5 100.2 471.4 99.2 472.7 98.7 C474.0 98.2 474.9 97.9 476.0 98.2 C477.1 98.5 478.2 99.5 479.3 100.4 C480.4 101.3 481.7 102.6 482.5 103.6 C483.3 104.6 483.7 104.9 484.2 106.4 C484.7 108.0 484.7 111.9 485.3 112.9 C485.9 113.9 487.0 112.7 488.0 112.4 C489.0 112.1 490.2 111.6 491.3 111.3 C492.4 111.0 493.4 110.8 494.5 110.7 C495.6 110.6 497.2 110.5 497.8 110.5" stroke="#1ab6f1" stroke-width="1.35" fill="none" stroke-linejoin="round"/>
<path d="M17.0 77.2 C18.0 77.2 20.9 77.2 23.2 77.4 C25.5 77.6 28.1 78.0 30.6 78.6 C33.1 79.2 35.8 80.0 38.0 80.8 C40.2 81.6 41.9 82.4 43.6 83.5 C45.3 84.6 46.9 86.2 48.3 87.5 C49.7 88.8 51.0 89.7 52.0 91.0 C53.0 92.3 53.3 93.3 54.0 95.5 C54.7 97.7 55.4 94.9 56.0 104.0 C56.6 113.1 57.0 128.2 57.6 150.0 C58.2 171.8 59.0 233.3 59.6 235.0 C60.2 236.7 60.8 180.0 61.3 160.0 C61.8 140.0 62.1 123.8 62.5 115.0 C62.9 106.2 63.1 105.8 63.4 107.5 C63.7 109.2 64.1 115.9 64.5 125.0 C64.9 134.1 65.3 162.0 65.8 162.0 C66.2 162.0 66.8 135.7 67.2 125.0 C67.6 114.3 68.0 103.6 68.3 98.0 C68.6 92.4 68.8 92.5 69.3 91.2 C69.8 89.9 70.4 90.0 71.2 89.9 C72.0 89.8 73.1 89.5 73.9 90.5 C74.7 91.5 75.3 94.1 75.9 95.9 C76.5 97.7 77.0 100.9 77.5 101.1 C78.0 101.3 78.1 100.0 78.6 97.2 C79.1 94.4 79.5 87.0 80.3 84.4 C81.0 81.8 81.7 82.7 83.1 81.6 C84.5 80.5 87.2 79.1 88.7 77.9 C90.2 76.7 90.0 75.3 92.0 74.6 C94.0 73.9 98.3 73.7 101.0 73.7 C103.7 73.7 105.5 74.5 108.3 74.5 C111.0 74.5 114.9 73.6 117.5 73.5 C120.1 73.4 122.2 73.6 124.0 73.8 C125.8 74.0 126.8 74.2 128.0 74.5 C129.2 74.8 129.7 75.4 131.0 75.4 C132.3 75.4 132.2 74.2 136.0 74.3 C139.8 74.4 149.2 75.8 154.1 76.3 C158.9 76.8 162.9 76.9 165.1 77.2 C167.3 77.5 166.6 77.6 167.4 78.2 C168.2 78.8 169.4 79.5 170.2 81.0 C171.0 82.5 171.6 86.0 172.1 87.5 C172.6 89.0 172.5 90.3 173.0 90.3 C173.5 90.3 174.0 88.8 174.9 87.5 C175.8 86.2 177.4 84.2 178.6 82.8 C179.8 81.4 180.4 79.9 182.3 79.1 C184.2 78.3 187.7 78.3 190.0 78.1 C192.3 77.9 192.2 77.8 196.0 78.0 C199.8 78.2 206.7 78.8 212.5 79.5 C218.3 80.2 224.9 81.4 230.8 82.2 C236.7 83.0 244.2 84.0 247.7 84.5 C251.2 85.0 250.8 84.6 251.8 84.9 C252.8 85.3 253.0 86.4 253.6 86.6 C254.2 86.7 254.8 85.7 255.4 85.8 C256.0 86.0 256.6 87.3 257.2 87.5 C257.8 87.6 258.4 86.6 259.0 86.7 C259.6 86.9 260.2 88.3 260.8 88.4 C261.4 88.6 262.0 87.6 262.6 87.8 C263.2 87.9 263.8 89.3 264.4 89.5 C265.0 89.7 265.6 88.6 266.2 88.8 C266.8 89.0 267.4 90.5 268.0 90.7 C268.6 90.9 269.2 90.0 269.8 90.3 C270.4 90.5 271.0 92.0 271.6 92.2 C272.2 92.5 272.8 91.5 273.4 91.8 C274.0 92.2 274.6 93.8 275.2 94.2 C275.8 94.6 276.4 93.7 277.0 94.1 C277.6 94.5 278.2 96.0 278.8 96.5 C279.4 96.9 280.0 96.1 280.6 96.6 C281.2 97.1 281.8 98.8 282.4 99.3 C283.0 99.7 283.6 99.0 284.2 99.5 C284.8 100.0 285.4 101.5 286.0 102.3 C286.6 103.0 287.2 102.9 287.8 103.8 C288.4 104.7 289.0 106.5 289.6 107.7 C290.2 108.9 290.8 109.3 291.4 110.9 C292.0 112.4 292.6 115.7 293.2 117.2 C293.8 118.7 294.4 118.8 295.0 119.9 C295.6 120.9 296.2 122.6 296.8 123.4 C297.4 124.3 297.9 123.6 298.6 124.9 C299.4 126.2 300.5 128.7 301.3 131.4 C302.1 134.1 302.8 137.9 303.4 140.9 C304.0 143.9 304.6 146.8 305.0 149.4 C305.4 152.1 305.8 154.2 306.1 156.8 C306.5 159.4 306.5 160.3 307.1 165.0 C307.7 169.7 308.7 178.3 309.5 185.0 C310.3 191.7 310.9 193.3 311.8 205.0 C312.7 216.7 313.8 239.2 314.7 255.0 C315.6 270.8 316.6 289.5 317.2 300.0 C317.8 310.5 318.0 313.3 318.5 318.0 C319.0 322.7 319.6 328.2 320.2 328.2 C320.8 328.2 321.4 322.7 321.8 318.0 C322.2 313.3 322.1 311.0 322.6 300.0 C323.1 289.0 324.3 263.0 325.0 252.2 C325.7 241.4 326.1 243.7 326.7 235.0 C327.3 226.3 327.9 211.7 328.5 200.0 C329.1 188.3 329.9 174.7 330.5 165.0 C331.1 155.3 331.7 146.9 332.3 142.0 C332.9 137.1 333.8 135.8 334.3 135.3 C334.8 134.8 335.1 134.1 335.5 139.0 C335.9 143.9 336.1 147.6 336.6 165.0 C337.1 182.4 337.8 238.7 338.4 243.7 C339.0 248.7 339.5 206.8 340.0 195.0 C340.5 183.2 340.8 173.0 341.2 173.0 C341.6 173.0 341.7 178.1 342.4 195.0 C343.1 211.9 344.5 273.9 345.5 274.7 C346.5 275.5 347.5 219.9 348.3 200.0 C349.1 180.1 349.9 164.8 350.5 155.0 C351.1 145.2 351.6 141.8 352.0 141.0 C352.4 140.2 352.7 135.9 353.2 150.0 C353.7 164.1 354.5 220.0 355.1 225.8 C355.7 231.6 356.2 198.8 356.6 185.0 C357.0 171.2 357.1 155.8 357.4 143.0 C357.7 130.2 357.8 115.2 358.2 108.0 C358.6 100.8 359.0 102.5 359.5 100.0 C360.0 97.5 360.3 94.9 361.0 93.0 C361.7 91.1 363.1 88.7 363.8 88.6 C364.5 88.5 364.9 90.3 365.3 92.2 C365.7 94.1 366.1 97.6 366.3 100.2 C366.6 102.8 366.6 101.4 366.8 108.0 C367.0 114.6 367.3 124.2 367.6 140.0 C367.9 155.8 368.4 202.8 368.8 202.8 C369.2 202.8 369.8 157.1 370.2 140.0 C370.6 122.9 370.8 108.3 371.3 100.0 C371.8 91.7 372.7 92.2 373.3 90.1 C373.9 87.9 374.3 87.8 374.8 87.1 C375.3 86.3 375.9 85.7 376.4 85.6 C376.9 85.5 377.3 86.8 377.9 86.6 C378.5 86.3 378.8 85.3 380.0 84.1 C381.2 82.9 383.3 79.9 385.0 79.2 C386.7 78.5 388.3 79.9 390.4 80.1 C392.5 80.2 395.6 80.4 397.8 80.1 C400.0 79.8 401.9 78.4 403.3 78.3 C404.7 78.2 405.3 77.6 406.0 79.2 C406.7 80.8 407.1 79.5 407.6 88.0 C408.2 96.5 408.8 128.0 409.3 130.0 C409.8 132.0 410.1 108.2 410.5 100.0 C410.9 91.8 410.8 84.8 411.5 81.1 C412.2 77.4 413.5 78.3 414.6 77.8 C415.7 77.3 417.3 77.6 418.2 78.3 C419.1 79.0 419.5 77.4 420.1 82.0 C420.7 86.6 421.4 100.0 421.9 105.8 C422.4 111.6 422.7 120.8 423.2 116.8 C423.7 112.8 424.2 88.2 424.7 82.0 C425.2 75.8 425.4 80.1 426.0 79.5 C426.6 78.9 426.4 78.5 428.3 78.3 C430.2 78.1 435.2 78.1 437.5 78.3 C439.8 78.5 441.0 78.2 442.0 79.2 C443.0 80.2 443.2 78.0 443.6 84.0 C444.0 90.0 444.2 100.3 444.6 115.0 C445.0 129.7 445.4 172.0 445.8 172.0 C446.2 172.0 446.8 129.7 447.2 115.0 C447.6 100.3 447.9 89.9 448.4 84.0 C448.9 78.1 449.1 80.5 450.0 79.8 C450.9 79.1 453.0 78.1 454.0 80.1 C455.0 82.1 455.4 84.5 456.0 92.0 C456.6 99.5 456.9 111.7 457.3 125.0 C457.7 138.3 458.0 172.0 458.3 172.0 C458.6 172.0 459.0 139.7 459.4 125.0 C459.8 110.3 459.9 91.6 460.5 84.0 C461.1 76.4 462.2 80.5 463.0 79.5 C463.8 78.5 463.1 78.5 465.0 78.3 C466.9 78.0 471.1 77.7 474.1 78.0 C477.2 78.3 481.3 78.5 483.3 80.1 C485.3 81.7 485.4 82.5 486.0 87.5 C486.6 92.5 486.8 101.2 487.2 110.0 C487.6 118.8 487.9 140.0 488.3 140.0 C488.7 140.0 489.0 118.0 489.4 110.0 C489.8 102.0 490.1 96.1 490.8 92.0 C491.5 87.9 492.4 87.0 493.3 85.6 C494.2 84.2 495.3 83.7 496.1 83.4 C496.9 83.1 497.7 83.7 498.0 83.8" stroke="#555555" stroke-width="1.3" fill="none" stroke-linejoin="round"/>
<line x1="184.2" y1="162.8" x2="202.8" y2="162.8" stroke="#ff33b8" stroke-width="1.8"/>
<text x="209.3" y="166.6" class="lg" textLength="74.0" lengthAdjust="spacingAndGlyphs">Co(L<tspan class="sb">2</tspan>)<tspan class="sb">2</tspan>(Im)·H<tspan class="sb">2</tspan>O</text>
<line x1="183.4" y1="178.1" x2="201.6" y2="178.1" stroke="#00bf63" stroke-width="1.8"/>
<text x="207.5" y="181.9" class="lg" textLength="80.8" lengthAdjust="spacingAndGlyphs">Ni(L<tspan class="sb">2</tspan>)<tspan class="sb">2</tspan>(Im)<tspan class="sb">1,5</tspan>·H<tspan class="sb">2</tspan>O</text>
<line x1="192.4" y1="195.0" x2="211.0" y2="195.0" stroke="#00b0f0" stroke-width="1.8"/>
<text x="215.0" y="198.8" class="lg" textLength="63.8" lengthAdjust="spacingAndGlyphs">Cu(L<tspan class="sb">2</tspan>)(Im)<tspan class="sb">depr.</tspan></text>
<line x1="187.0" y1="210.2" x2="205.8" y2="210.2" stroke="#858585" stroke-width="1.8"/>
<text x="210.3" y="214.0" class="lg" textLength="72.8" lengthAdjust="spacingAndGlyphs">Zn(L<tspan class="sb">2</tspan>)<tspan class="sb">2</tspan>(Im)·H<tspan class="sb">2</tspan>O</text>
<line x1="176.0" y1="225.6" x2="194.8" y2="225.6" stroke="#141414" stroke-width="1.8"/>
<text x="204.3" y="229.4" class="lg" textLength="89.0" lengthAdjust="spacingAndGlyphs">sodium propionate</text>
<text x="212.5" y="362.8" class="ax" textLength="110.5" lengthAdjust="spacing">Wavenumber, [cm<tspan class="sp" dy="-3.8">−1</tspan><tspan dy="3.8">]</tspan></text>
<text transform="translate(536.2 222.2) rotate(-90)" class="ax" textLength="99.3" lengthAdjust="spacing">Transmittance, [%]</text>
</svg>
</body></html>
